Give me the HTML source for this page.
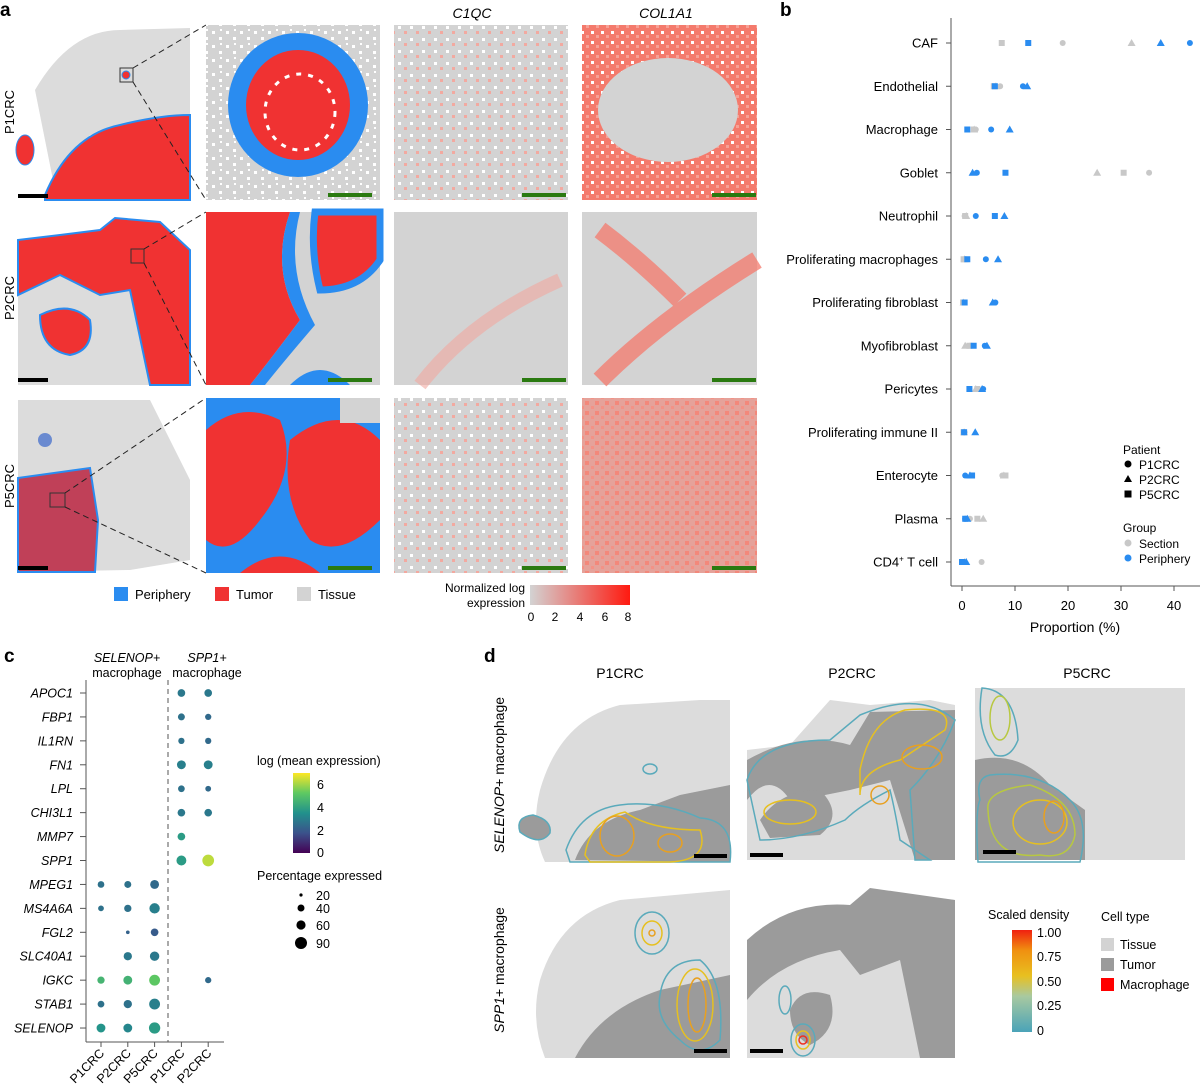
<!DOCTYPE html>
<html><head><meta charset="utf-8"><style>
body{margin:0;background:#fff;}
svg{display:block;font-family:"Liberation Sans",sans-serif;}
</style></head><body>
<svg id="fig" width="1200" height="1090" viewBox="0 0 1200 1090">
<defs>
 <pattern id="specks" width="14" height="14" patternUnits="userSpaceOnUse">
  <rect width="14" height="14" fill="#d3d3d3"/>
  <rect x="2" y="3" width="3" height="3" fill="#fff"/><rect x="9" y="9" width="3" height="3" fill="#fff"/><rect x="10" y="1" width="2" height="2" fill="#fff"/>
 </pattern>
 <pattern id="c1qc" width="12" height="12" patternUnits="userSpaceOnUse">
  <rect width="12" height="12" fill="#d3d3d3"/>
  <rect x="2" y="2" width="3" height="3" fill="#fff"/><rect x="8" y="7" width="3" height="3" fill="#f2a9a0"/>
 </pattern>
 <pattern id="col" width="10" height="10" patternUnits="userSpaceOnUse">
  <rect width="10" height="10" fill="#f47a6c"/>
  <rect x="1" y="1" width="3" height="3" fill="#fff"/><rect x="6" y="5" width="3" height="3" fill="#f6a196"/>
 </pattern>
 <pattern id="colmix" width="10" height="10" patternUnits="userSpaceOnUse">
  <rect width="10" height="10" fill="#d3d3d3"/>
  <rect x="5" y="1" width="4" height="4" fill="#f29a8e"/><rect x="1" y="6" width="3" height="3" fill="#f4b0a6"/>
 </pattern>
 <linearGradient id="expr" x1="0" x2="1"><stop offset="0" stop-color="#d3d3d3"/><stop offset="1" stop-color="#ff1a10"/></linearGradient>
 <linearGradient id="vir" x1="0" y1="1" x2="0" y2="0"><stop offset="0" stop-color="#440154"/><stop offset="0.25" stop-color="#3b528b"/><stop offset="0.5" stop-color="#21918c"/><stop offset="0.75" stop-color="#5ec962"/><stop offset="1" stop-color="#fde725"/></linearGradient>
 <linearGradient id="dens" x1="0" y1="1" x2="0" y2="0"><stop offset="0" stop-color="#4aa3b8"/><stop offset="0.35" stop-color="#a8c9a0"/><stop offset="0.55" stop-color="#e8c020"/><stop offset="0.8" stop-color="#f09010"/><stop offset="1" stop-color="#f02010"/></linearGradient>
</defs>

<!-- ===== Panel a ===== -->
<g>
<text x="0" y="16" font-size="19" font-weight="bold">a</text>
<text x="472" y="18" font-size="14" font-style="italic" text-anchor="middle">C1QC</text>
<text x="666" y="18" font-size="14" font-style="italic" text-anchor="middle">COL1A1</text>
<text transform="translate(14,112) rotate(-90)" font-size="13" text-anchor="middle">P1CRC</text>
<text transform="translate(14,298) rotate(-90)" font-size="13" text-anchor="middle">P2CRC</text>
<text transform="translate(14,486) rotate(-90)" font-size="13" text-anchor="middle">P5CRC</text>

<g>
 <path d="M35,90 Q70,30 120,30 L190,28 L190,170 L150,125 L90,135 L55,190 Z" fill="#dcdcdc"/>
 <path d="M45,195 Q70,135 120,125 Q160,115 190,115 L190,200 L45,200 Z" fill="#f03232" stroke="#2a8cf0" stroke-width="2"/>
 <ellipse cx="25" cy="150" rx="9" ry="15" fill="#f03232" stroke="#2a8cf0"/>
 <rect x="120" y="68" width="13" height="14" fill="none" stroke="#333"/>
 <circle cx="126" cy="75" r="4" fill="#f03232" stroke="#2a8cf0"/>
 <rect x="18" y="194" width="30" height="4" fill="#000"/>
</g>
<g>
 <rect x="18" y="250" width="172" height="135" fill="#dcdcdc"/>
 <path d="M18,240 L60,235 L100,230 L115,218 L160,222 L190,250 L190,385 L150,385 L130,290 L100,295 L60,275 L18,295 Z" fill="#f03232" stroke="#2a8cf0" stroke-width="2"/>
 <path d="M40,315 Q70,300 90,320 Q95,350 70,355 Q40,350 40,315 Z" fill="#f03232" stroke="#2a8cf0" stroke-width="2"/>
 <rect x="131" y="249" width="13" height="14" fill="none" stroke="#333"/>
 <rect x="18" y="378" width="30" height="4" fill="#000"/>
</g>
<g>
 <path d="M18,400 L150,400 L190,480 L190,560 L130,570 L18,572 Z" fill="#dcdcdc"/>
 <path d="M18,478 L90,468 L98,520 L95,572 L18,572 Z" fill="#c04058" stroke="#2a8cf0" stroke-width="2"/>
 <circle cx="45" cy="440" r="7" fill="#6a8ad0"/>
 <rect x="50" y="493" width="15" height="14" fill="none" stroke="#333"/>
 <rect x="18" y="566" width="30" height="4" fill="#000"/>
</g>
<g stroke="#222" stroke-dasharray="6,4" fill="none">
 <line x1="133" y1="68" x2="206" y2="25"/><line x1="133" y1="82" x2="206" y2="200"/>
 <line x1="144" y1="249" x2="206" y2="212"/><line x1="144" y1="263" x2="206" y2="385"/>
 <line x1="65" y1="493" x2="206" y2="398"/><line x1="65" y1="507" x2="206" y2="573"/>
</g>
<g>
 <rect x="206" y="25" width="174" height="175" fill="url(#specks)"/>
 <ellipse cx="298" cy="105" rx="70" ry="72" fill="#2a8cf0"/>
 <ellipse cx="298" cy="105" rx="52" ry="55" fill="#f03232"/>
 <ellipse cx="300" cy="112" rx="35" ry="38" fill="#f03232" stroke="#fff" stroke-width="3" stroke-dasharray="5,7"/>
 <rect x="328" y="193" width="44" height="4" fill="#2a7a10"/>
</g>
<g>
 <rect x="394" y="25" width="174" height="175" fill="url(#c1qc)"/>
 <rect x="522" y="193" width="44" height="4" fill="#2a7a10"/>
</g>
<g>
 <rect x="582" y="25" width="175" height="175" fill="url(#col)"/>
 <ellipse cx="668" cy="110" rx="70" ry="52" fill="#d3d3d3"/>
 <rect x="712" y="193" width="44" height="4" fill="#2a7a10"/>
</g>
<g>
 <rect x="206" y="212" width="174" height="173" fill="#d3d3d3"/>
 <path d="M206,212 L290,212 Q270,270 300,320 Q270,360 250,385 L206,385 Z" fill="#f03232"/>
 <path d="M290,212 L300,212 Q285,270 315,325 Q285,360 265,385 L250,385 Q270,360 300,320 Q270,270 290,212 Z" fill="#2a8cf0"/>
 <path d="M315,212 L380,212 L380,260 Q360,290 320,290 Q310,250 315,212 Z" fill="#f03232" stroke="#2a8cf0" stroke-width="7"/>
 <path d="M290,385 Q320,355 350,385 Z" fill="#2a8cf0"/>
 <rect x="328" y="378" width="44" height="4" fill="#2a7a10"/>
</g>
<g>
 <rect x="394" y="212" width="174" height="173" fill="#d3d3d3"/>
 <path d="M420,385 Q470,320 560,280" stroke="#f2a9a0" stroke-width="14" fill="none" opacity="0.6"/>
 <rect x="522" y="378" width="44" height="4" fill="#2a7a10"/>
</g>
<g>
 <rect x="582" y="212" width="175" height="173" fill="#d3d3d3"/>
 <path d="M600,380 Q660,320 757,260 M600,230 Q640,260 680,300" stroke="#f47a6c" stroke-width="18" fill="none" opacity="0.75"/>
 <rect x="712" y="378" width="44" height="4" fill="#2a7a10"/>
</g>
<g>
 <rect x="206" y="398" width="174" height="175" fill="#2a8cf0"/>
 <path d="M206,430 Q240,400 280,420 Q300,470 260,520 Q230,560 206,540 Z" fill="#f03232"/>
 <path d="M290,440 Q340,400 380,440 L380,520 Q340,560 310,540 Q280,500 290,440 Z" fill="#f03232"/>
 <path d="M240,573 Q280,540 320,573 Z" fill="#f03232"/>
 <rect x="340" y="398" width="40" height="25" fill="#d3d3d3"/>
 <rect x="328" y="566" width="44" height="4" fill="#2a7a10"/>
</g>
<g>
 <rect x="394" y="398" width="174" height="175" fill="url(#c1qc)"/>
 <rect x="522" y="566" width="44" height="4" fill="#2a7a10"/>
</g>
<g>
 <rect x="582" y="398" width="175" height="175" fill="#f47a6c"/>
 <rect x="582" y="398" width="175" height="175" fill="url(#colmix)" opacity="0.45"/>
 <rect x="712" y="566" width="44" height="4" fill="#2a7a10"/>
</g>
<g font-size="13">
 <rect x="114" y="587" width="14" height="14" fill="#2a8cf0"/><text x="135" y="599">Periphery</text>
 <rect x="215" y="587" width="14" height="14" fill="#f03232"/><text x="236" y="599">Tumor</text>
 <rect x="297" y="587" width="14" height="14" fill="#d3d3d3"/><text x="318" y="599">Tissue</text>
</g>
<g font-size="12">
 <text x="525" y="592" text-anchor="end">Normalized log</text>
 <text x="525" y="607" text-anchor="end">expression</text>
 <rect x="530" y="585" width="100" height="20" fill="url(#expr)"/>
 <text x="531" y="621" text-anchor="middle">0</text><text x="555" y="621" text-anchor="middle">2</text>
 <text x="580" y="621" text-anchor="middle">4</text><text x="605" y="621" text-anchor="middle">6</text>
 <text x="628" y="621" text-anchor="middle">8</text>
</g>
</g>

<!-- ===== Panel b ===== -->
<g id="pb">
<text x="780" y="16" font-size="19" font-weight="bold">b</text>
<line x1="951" y1="18" x2="951" y2="586" stroke="#555"/>
<line x1="951" y1="586" x2="1200" y2="586" stroke="#555"/>
<text x="1075" y="632" font-size="14" text-anchor="middle">Proportion (%)</text>
<g font-size="12">
 <text x="1123" y="454">Patient</text>
 <circle cx="1128" cy="464" r="3.5" fill="#000"/><text x="1139" y="469">P1CRC</text>
 <path d="M1128,475 l4,7 h-8 z" fill="#000"/><text x="1139" y="484">P2CRC</text>
 <rect x="1124.5" y="490.5" width="7" height="7" fill="#000"/><text x="1139" y="499">P5CRC</text>
 <text x="1123" y="532">Group</text>
 <circle cx="1128" cy="543" r="3.5" fill="#c8c8c8"/><text x="1139" y="548">Section</text>
 <circle cx="1128" cy="558" r="3.5" fill="#2a8cf0"/><text x="1139" y="563">Periphery</text>
</g>
</g>

<!-- ===== Panel c ===== -->
<g id="pc">
<text x="4" y="662" font-size="19" font-weight="bold">c</text>
<text x="127" y="662" font-size="12.5" font-style="italic" text-anchor="middle">SELENOP+</text>
<text x="127" y="677" font-size="12.5" text-anchor="middle">macrophage</text>
<text x="207" y="662" font-size="12.5" font-style="italic" text-anchor="middle">SPP1+</text>
<text x="207" y="677" font-size="12.5" text-anchor="middle">macrophage</text>
<line x1="86" y1="680" x2="86" y2="1042" stroke="#555"/>
<line x1="86" y1="1042" x2="224" y2="1042" stroke="#555"/>
<line x1="168" y1="680" x2="168" y2="1042" stroke="#555" stroke-dasharray="5,4"/>
<g font-size="12.5">
 <text x="257" y="765">log (mean expression)</text>
 <rect x="293" y="773" width="17" height="80" fill="url(#vir)"/>
 <text x="317" y="789">6</text><text x="317" y="812">4</text><text x="317" y="835">2</text><text x="317" y="857">0</text>
 <text x="257" y="880">Percentage expressed</text>
 <circle cx="301" cy="895" r="1.6" fill="#000"/><text x="316" y="900">20</text>
 <circle cx="301" cy="908" r="3.5" fill="#000"/><text x="316" y="913">40</text>
 <circle cx="301" cy="925" r="4.6" fill="#000"/><text x="316" y="930">60</text>
 <circle cx="301" cy="943" r="6" fill="#000"/><text x="316" y="948">90</text>
</g>
</g>

<!-- ===== Panel d ===== -->
<g>
<text x="484" y="662" font-size="19" font-weight="bold">d</text>
<text x="620" y="678" font-size="14" text-anchor="middle">P1CRC</text>
<text x="852" y="678" font-size="14" text-anchor="middle">P2CRC</text>
<text x="1087" y="678" font-size="14" text-anchor="middle">P5CRC</text>
<text transform="translate(504,775) rotate(-90)" font-size="14" text-anchor="middle"><tspan font-style="italic">SELENOP</tspan>+ macrophage</text>
<text transform="translate(504,970) rotate(-90)" font-size="14" text-anchor="middle"><tspan font-style="italic">SPP1</tspan>+ macrophage</text>

<g>
 <path d="M540,790 Q560,720 620,705 L700,700 L730,700 L730,862 L545,862 Q530,830 540,790 Z" fill="#dcdcdc"/>
 <path d="M575,860 Q590,820 640,810 L680,795 L730,785 L730,862 Z" fill="#9b9b9b"/>
 <path d="M566,850 Q580,810 620,805 Q660,800 700,818 Q735,820 730,862 L570,862 Z" fill="none" stroke="#5aaabb" stroke-width="1.5"/>
 <path d="M585,855 Q590,820 625,812 Q650,830 700,830 Q710,860 670,862 L590,862 Z" fill="none" stroke="#e6c020" stroke-width="1.5"/>
 <ellipse cx="617" cy="836" rx="17" ry="20" fill="none" stroke="#e8a020" stroke-width="1.5"/>
 <ellipse cx="670" cy="843" rx="12" ry="9" fill="none" stroke="#e8a020" stroke-width="1.5"/>
 <ellipse cx="650" cy="769" rx="7" ry="5" fill="none" stroke="#5aaabb" stroke-width="1.5"/>
 <path d="M520,832 Q515,817 533,815 Q552,820 550,833 Q540,847 520,832 Z" fill="#9b9b9b" stroke="#5aaabb" stroke-width="1.5"/>
 <rect x="694" y="854" width="33" height="4" fill="#000"/>
</g>
<g>
 <path d="M747,750 L790,745 L830,700 L870,705 L930,700 L955,705 L955,860 L747,860 Z" fill="#dcdcdc"/>
 <path d="M747,760 Q800,730 850,745 L870,712 L955,710 L955,860 L915,860 L890,780 L850,790 L800,800 L790,800 Q770,770 747,800 Z" fill="#9b9b9b"/>
 <path d="M760,820 Q780,790 820,790 Q845,815 820,835 L770,838 Z" fill="#9b9b9b"/>
 <path d="M747,780 Q760,740 830,740 L860,715 Q920,690 955,720 Q940,760 910,790 L915,860 L930,860 L900,840 Q895,810 890,790 Q860,805 845,820 Q800,840 760,840 Z" fill="none" stroke="#5aaabb" stroke-width="1.5"/>
 <path d="M860,795 Q860,770 900,760 Q930,740 945,730 Q955,705 905,710 Q870,720 860,770 Z" fill="none" stroke="#e6c020" stroke-width="1.5"/>
 <ellipse cx="922" cy="757" rx="20" ry="12" fill="none" stroke="#e8a020" stroke-width="1.5"/>
 <ellipse cx="880" cy="795" rx="9" ry="9" fill="none" stroke="#e8a020" stroke-width="1.5"/>
 <ellipse cx="790" cy="812" rx="26" ry="12" fill="none" stroke="#e6c020" stroke-width="1.5"/>
 <rect x="750" y="853" width="33" height="4" fill="#000"/>
</g>
<g>
 <rect x="975" y="688" width="210" height="172" fill="#dcdcdc"/>
 <path d="M975,810 L975,760 Q1020,750 1050,785 L1085,810 L1085,860 L975,860 Z" fill="#9b9b9b"/>
 <path d="M982,688 Q1015,690 1018,740 Q1010,760 995,755 Q975,730 982,688 Z" fill="none" stroke="#5aaabb" stroke-width="1.5"/>
 <ellipse cx="1000" cy="718" rx="10" ry="22" fill="none" stroke="#b8c840" stroke-width="1.5"/>
 <path d="M980,800 Q975,810 978,862 L1080,862 Q1090,820 1070,800 Q1040,770 990,775 Q975,778 980,800 Z" fill="none" stroke="#5aaabb" stroke-width="1.5"/>
 <path d="M988,810 Q985,790 1030,785 Q1075,800 1075,835 Q1070,860 1040,855 Q990,860 988,810 Z" fill="none" stroke="#b8c840" stroke-width="1.5"/>
 <ellipse cx="1040" cy="822" rx="27" ry="22" fill="none" stroke="#e6c020" stroke-width="1.5"/>
 <ellipse cx="1054" cy="817" rx="10" ry="16" fill="none" stroke="#e8a020" stroke-width="1.5"/>
 <rect x="983" y="850" width="33" height="4" fill="#000"/>
</g>
<g>
 <path d="M540,980 Q560,915 620,900 L730,890 L730,1058 L545,1058 Q530,1020 540,980 Z" fill="#dcdcdc"/>
 <path d="M575,1058 Q600,1010 660,990 L730,975 L730,1058 Z" fill="#9b9b9b"/>
 <ellipse cx="652" cy="933" rx="17" ry="21" fill="none" stroke="#5aaabb" stroke-width="1.5"/>
 <ellipse cx="652" cy="933" rx="10" ry="12" fill="none" stroke="#e6c020" stroke-width="1.5"/>
 <circle cx="652" cy="933" r="3" fill="none" stroke="#e8a020" stroke-width="1.5"/>
 <path d="M660,995 Q665,960 700,960 Q725,980 720,1040 Q700,1060 680,1040 Q655,1020 660,995 Z" fill="none" stroke="#5aaabb" stroke-width="1.5"/>
 <ellipse cx="695" cy="1005" rx="18" ry="36" fill="none" stroke="#e6c020" stroke-width="1.5"/>
 <ellipse cx="697" cy="1005" rx="9" ry="27" fill="none" stroke="#e8a020" stroke-width="1.5"/>
 <rect x="694" y="1049" width="33" height="4" fill="#000"/>
</g>
<g>
 <path d="M747,960 L747,1058 L955,1058 L955,900 L870,890 L840,950 Z" fill="#dcdcdc"/>
 <path d="M747,940 Q790,900 850,905 L870,888 L955,900 L955,1058 L920,1058 L900,960 L860,975 L840,950 Q780,960 747,1000 Z" fill="#9b9b9b"/>
 <path d="M790,1010 Q800,985 830,995 Q840,1030 810,1045 Q790,1035 790,1010 Z" fill="#9b9b9b"/>
 <ellipse cx="785" cy="1000" rx="6" ry="14" fill="none" stroke="#5aaabb" stroke-width="1.5"/>
 <ellipse cx="803" cy="1040" rx="12" ry="16" fill="none" stroke="#5aaabb" stroke-width="1.5"/>
 <ellipse cx="803" cy="1040" rx="7" ry="9" fill="none" stroke="#e6c020" stroke-width="1.5"/>
 <circle cx="803" cy="1040" r="4" fill="none" stroke="#f03020" stroke-width="1.5"/>
 <rect x="750" y="1049" width="33" height="4" fill="#000"/>
</g>
<g font-size="12.5">
 <text x="988" y="919">Scaled density</text>
 <rect x="1012" y="930" width="20" height="102" fill="url(#dens)"/>
 <text x="1037" y="937">1.00</text><text x="1037" y="961">0.75</text><text x="1037" y="986">0.50</text>
 <text x="1037" y="1010">0.25</text><text x="1037" y="1035">0</text>
 <text x="1101" y="921">Cell type</text>
 <rect x="1101" y="938" width="13" height="13" fill="#d3d3d3"/><text x="1120" y="949">Tissue</text>
 <rect x="1101" y="958" width="13" height="13" fill="#9b9b9b"/><text x="1120" y="969">Tumor</text>
 <rect x="1101" y="978" width="13" height="13" fill="#ff0000"/><text x="1120" y="989">Macrophage</text>
</g>
</g>
</svg>
<script>
var NS="http://www.w3.org/2000/svg";
// ---- Panel b data ----
var bCategories=["CAF","Endothelial","Macrophage","Goblet","Neutrophil","Proliferating macrophages","Proliferating fibroblast","Myofibroblast","Pericytes","Proliferating immune II","Enterocyte","Plasma","CD4+ T cell"];
var bSecP1=[19,7.2,2.6,35.3,0.5,0.4,0.3,1.5,2.8,0.5,7.6,1.5,3.7];
var bSecP2=[32,6.4,2.3,25.5,0.8,0.5,0.3,0.6,2.6,0.4,7.9,4.0,0.5];
var bSecP5=[7.5,6.0,2.2,30.5,0.6,0.3,0.2,1.4,2.9,0.3,8.2,2.9,0.2];
var bPerP1=[43,11.5,5.5,2.8,2.6,4.5,6.3,4.3,4.0,0.4,0.6,0.6,0.3];
var bPerP2=[37.5,12.3,9.0,2.0,8.0,6.8,5.8,4.7,3.8,2.5,1.5,1.0,0.8];
var bPerP5=[12.5,6.2,1.0,8.2,6.2,1.0,0.5,2.2,1.4,0.4,1.9,0.6,0.0];
var bTicks=[0,10,20,30,40];
function bx(v){return 962+v*5.3;}
function by(i){return 43+i*43.25;}
function el(tag,attrs,parent){var e=document.createElementNS(NS,tag);for(var k in attrs)e.setAttribute(k,attrs[k]);parent.appendChild(e);return e;}
var pb=document.getElementById('pb');
bTicks.forEach(function(t){
  var l=el('line',{x1:bx(t),x2:bx(t),y1:586,y2:591,stroke:'#555'},pb);
  
  
  var tx=el('text',{x:bx(t),y:610,'font-size':13,'text-anchor':'middle'},pb);tx.textContent=t;
  
  
});
function mark(shape,v,i,color){
  var x=bx(v),y=by(i),e;
  if(shape==0)e=el('circle',{cx:x,cy:y,r:3,fill:color},pb);
  else if(shape==1)e=el('path',{d:'M'+x+','+(y-4)+' l4,7 h-8 z',fill:color},pb);
  else e=el('rect',{x:x-3,y:y-3,width:6,height:6,fill:color},pb);
  
  
}
bCategories.forEach(function(c,i){
  var l=el('line',{x1:946,x2:951,y1:by(i),y2:by(i),stroke:'#555'},pb);
  
  
  var t=el('text',{x:938,y:by(i)+4.5,'font-size':13,'text-anchor':'end'},pb);
  if(c=="CD4+ T cell"){t.innerHTML='CD4<tspan font-size="8" dy="-5">+</tspan><tspan dy="5"> T cell</tspan>';}else t.textContent=c;
  
  
  var g='#c8c8c8',b='#2a8cf0';
  mark(0,bSecP1[i],i,g);mark(1,bSecP2[i],i,g);mark(2,bSecP5[i],i,g);
  mark(0,bPerP1[i],i,b);mark(1,bPerP2[i],i,b);mark(2,bPerP5[i],i,b);
});
// ---- Panel c data ----
var cGenes=["APOC1","FBP1","IL1RN","FN1","LPL","CHI3L1","MMP7","SPP1","MPEG1","MS4A6A","FGL2","SLC40A1","IGKC","STAB1","SELENOP"];
var cGroups=["P1CRC","P2CRC","P5CRC","P1CRC","P2CRC"];
var cPct0=[0,0,0,0,0,0,0,0,38,32,0,0,42,38,55];
var cPct1=[0,0,0,0,0,0,0,0,40,42,22,50,55,50,55];
var cPct2=[0,0,0,0,0,0,0,0,55,70,45,60,75,75,80];
var cPct3=[45,40,35,55,38,45,45,65,0,0,0,0,0,0,0];
var cPct4=[45,35,35,55,32,45,0,85,0,0,0,0,35,0,0];
var cExp0=[0,0,0,0,0,0,0,0,2.6,2.6,0,0,4.6,2.6,3.6];
var cExp1=[0,0,0,0,0,0,0,0,2.6,2.6,2.2,2.8,4.5,2.6,3.2];
var cExp2=[0,0,0,0,0,0,0,0,2.4,3.0,2.0,2.8,5.2,3.0,3.8];
var cExp3=[2.8,2.6,2.6,3.0,2.6,2.8,3.8,3.8,0,0,0,0,0,0,0];
var cExp4=[2.8,2.4,2.4,3.0,2.4,2.8,0,6.3,0,0,0,0,2.4,0,0];
var cPct=[cPct0,cPct1,cPct2,cPct3,cPct4], cExp=[cExp0,cExp1,cExp2,cExp3,cExp4];
function cx(j){return 101+j*26.8;}
function cy(i){return 693+i*23.93;}
function rad(p){return Math.sqrt(Math.max(p-15,0.5))*0.7;}
function viridis(v){
  var s=[[68,1,84],[59,82,139],[33,145,140],[94,201,98],[253,231,37]];
  var t=Math.max(0,Math.min(1,v/7))*4,k=Math.min(3,Math.floor(t)),f=t-k;
  var c=s[k].map(function(a,n){return Math.round(a+(s[k+1][n]-a)*f);});
  return 'rgb('+c.join(',')+')';
}
var pc=document.getElementById('pc');
cGenes.forEach(function(gname,i){
  var l=el('line',{x1:80,x2:86,y1:cy(i),y2:cy(i),stroke:'#555'},pc);
  
  
  var t=el('text',{x:73,y:cy(i)+4.5,'font-size':12.5,'font-style':'italic','text-anchor':'end'},pc);t.textContent=gname;
  
  
  for(var j=0;j<5;j++){
    if(cPct[j][i]>0){
      var d=el('circle',{cx:cx(j),cy:cy(i),r:rad(cPct[j][i]),fill:viridis(cExp[j][i])},pc);
      
      
    }
  }
});
cGroups.forEach(function(g,j){
  var l=el('line',{x1:cx(j),x2:cx(j),y1:1042,y2:1047,stroke:'#555'},pc);
  
  
  var t=el('text',{x:0,y:0,'font-size':12.5,'text-anchor':'end',transform:'translate('+(cx(j)+4)+',1054) rotate(-45)'},pc);t.textContent=g;
  
  
});
</script>
</body></html>
